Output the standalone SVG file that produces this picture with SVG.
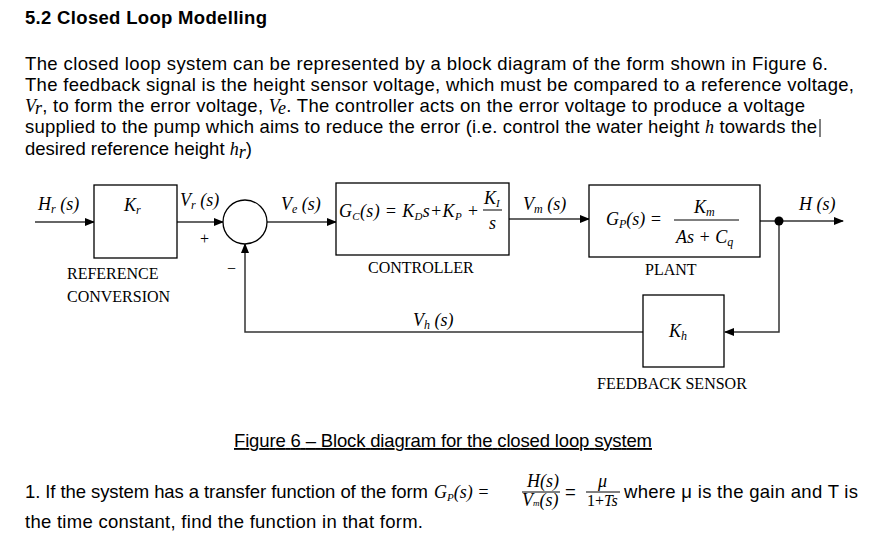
<svg xmlns="http://www.w3.org/2000/svg" width="885" height="553" viewBox="0 0 885 553">
<style>
.t{font-family:"Liberation Sans",Arial,sans-serif;font-size:18.5px;fill:#000}
.m{font-family:"Liberation Serif","Times New Roman",serif;font-style:italic;font-size:18px;fill:#000}
.c{font-family:"Liberation Serif","Times New Roman",serif;font-size:16px;fill:#000}
.b{fill:#fff;stroke:#000;stroke-width:1.3}
.l{fill:none;stroke:#333;stroke-width:1.5}
</style>
<defs><marker id="a" markerWidth="10" markerHeight="8" refX="9" refY="4" orient="auto" markerUnits="userSpaceOnUse"><path d="M0,0L10,4L0,8z" fill="#000"/></marker></defs>
<rect width="885" height="553" fill="#fff"/>
<text class="t" x="25" y="24" font-weight="bold" font-size="17" textLength="242">5.2 Closed Loop Modelling</text>
<text class="t" x="25" y="70" textLength="803">The closed loop system can be represented by a block diagram of the form shown in Figure 6.</text>
<text class="t" x="25" y="91" textLength="829">The feedback signal is the height sensor voltage, which must be compared to a reference voltage,</text>
<text class="t" x="25" y="112" textLength="780"><tspan class="m">V</tspan><tspan class="m" font-size="11" dy="2">r</tspan><tspan dy="-2">, to form the error voltage, </tspan><tspan class="m">V</tspan><tspan class="m" font-size="11" dy="2">e</tspan><tspan dy="-2">.  The controller acts on the error voltage to produce a voltage</tspan></text>
<text class="t" x="25" y="133" textLength="792">supplied to the pump which aims to reduce the error (i.e. control the water height <tspan class="m">h</tspan> towards the</text>
<line x1="820" y1="119" x2="820" y2="137" stroke="#000"/>
<text class="t" x="25" y="155">desired reference height <tspan class="m">h</tspan><tspan class="m" font-size="12" dy="3">r</tspan><tspan dy="-3">)</tspan></text>
<g id="connectors">
<line class="l" x1="35" y1="222" x2="94" y2="222" marker-end="url(#a)"/>
<line class="l" x1="177" y1="222" x2="223" y2="222" marker-end="url(#a)"/>
<line class="l" x1="267" y1="222" x2="336" y2="222" marker-end="url(#a)"/>
<line class="l" x1="509" y1="219" x2="589" y2="219" marker-end="url(#a)"/>
<line class="l" x1="760" y1="221" x2="843" y2="221" marker-end="url(#a)"/>
<polyline class="l" points="779,221 779,332 725,332" marker-end="url(#a)"/>
<polyline class="l" points="643,332 245,332 245,244" marker-end="url(#a)"/>
<circle cx="779" cy="221" r="4.5" fill="#000"/>
<text class="m" x="38" y="210">H<tspan font-size="12" dy="3">r</tspan><tspan dy="-3"> (s)</tspan></text>
<text class="m" x="180" y="206">V<tspan font-size="12" dy="3">r</tspan><tspan dy="-3"> (s)</tspan></text>
<text class="c" x="200" y="244">+</text>
<text class="c" x="227" y="274">−</text>
<text class="m" x="281" y="210">V<tspan font-size="12" dy="3">e</tspan><tspan dy="-3"> (s)</tspan></text>
<text class="m" x="523" y="210">V<tspan font-size="12" dy="3">m</tspan><tspan dy="-3"> (s)</tspan></text>
<text class="m" x="799" y="210">H (s)</text>
<text class="m" x="413" y="326">V<tspan font-size="12" dy="3">h</tspan><tspan dy="-3"> (s)</tspan></text>
</g>
<g id="ref"><rect class="b" x="94" y="185" width="83" height="73"/>
<text class="m" x="124" y="211">K<tspan font-size="12" dy="3">r</tspan></text>
<text class="c" x="67" y="279">REFERENCE</text><text class="c" x="67" y="302">CONVERSION</text></g>
<g id="sum"><circle class="b" cx="245" cy="222" r="22"/></g>
<g id="controller"><rect class="b" x="336" y="183" width="173" height="72"/>
<text class="m" x="339" y="217" font-size="16" textLength="140">G<tspan font-size="11" dy="3">C</tspan><tspan dy="-3">(s) = K</tspan><tspan font-size="11" dy="3">D</tspan><tspan dy="-3">s+K</tspan><tspan font-size="11" dy="3">P</tspan><tspan dy="-3"> +</tspan></text>
<text class="m" x="484" y="204" font-size="16">K<tspan font-size="11" dy="3">I</tspan></text>
<line x1="483" y1="210" x2="502" y2="210" stroke="#000"/>
<text class="m" x="489" y="229" font-size="16">s</text>
<text class="c" x="368" y="273">CONTROLLER</text></g>
<g id="plant"><rect class="b" x="589" y="185" width="171" height="72"/>
<text class="m" x="606" y="225">G<tspan font-size="12" dy="3">P</tspan><tspan dy="-3">(s) =</tspan></text>
<text class="m" x="694" y="213">K<tspan font-size="12" dy="3">m</tspan></text>
<line x1="674" y1="220" x2="739" y2="220" stroke="#000"/>
<text class="m" x="676" y="243">As + C<tspan font-size="12" dy="3">q</tspan></text>
<text class="c" x="645" y="275">PLANT</text></g>
<g id="sensor"><rect class="b" x="643" y="295" width="81" height="72"/>
<text class="m" x="669" y="337">K<tspan font-size="12" dy="3">h</tspan></text>
<text class="c" x="597" y="389">FEEDBACK SENSOR</text></g>
<text class="t" x="234" y="447" text-decoration="underline" textLength="418">Figure 6 – Block diagram for the closed loop system</text>
<text class="t" x="25" y="498" textLength="403">1. If the system has a transfer function of the form</text>
<text class="m" x="434" y="498">G<tspan font-size="11" dy="3">P</tspan><tspan dy="-3">(s) =</tspan></text>
<text class="m" x="527" y="487" font-size="12">H(s)</text>
<line x1="522" y1="492" x2="560" y2="492" stroke="#000"/>
<text class="m" x="522" y="506" font-size="12">V<tspan font-size="9">m</tspan>(s)</text>
<text class="t" x="565" y="498">=</text>
<text class="m" x="598" y="487" font-size="12">μ</text>
<line x1="586" y1="492" x2="620" y2="492" stroke="#000"/>
<text class="c" x="587" y="506" font-size="12">1+<tspan font-style="italic">Ts</tspan></text>
<text class="t" x="624" y="498" textLength="234">where μ is the gain and T is</text>
<text class="t" x="25" y="528" textLength="398">the time constant, find the function in that form.</text>
</svg>
